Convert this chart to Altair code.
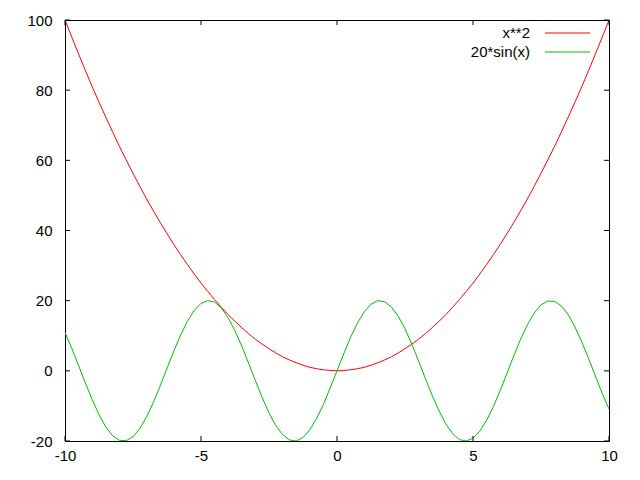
import altair as alt
import pandas as pd

# sample positions along x
x_vals = [-10, -9.75, -9.5, -9.25, -9, -8.75, -8.5, -8.25, -8, -7.75, -7.5, -7.25,
          -7, -6.75, -6.5, -6.25, -6, -5.75, -5.5, -5.25, -5, -4.75, -4.5, -4.25,
          -4, -3.75, -3.5, -3.25, -3, -2.75, -2.5, -2.25, -2, -1.75, -1.5, -1.25,
          -1, -0.75, -0.5, -0.25, 0, 0.25, 0.5, 0.75, 1, 1.25, 1.5, 1.75, 2, 2.25,
          2.5, 2.75, 3, 3.25, 3.5, 3.75, 4, 4.25, 4.5, 4.75, 5, 5.25, 5.5, 5.75,
          6, 6.25, 6.5, 6.75, 7, 7.25, 7.5, 7.75, 8, 8.25, 8.5, 8.75, 9, 9.25,
          9.5, 9.75, 10]

# series "x**2"
sq_vals = [100, 95.1, 90.3, 85.6, 81, 76.6, 72.3, 68.1, 64, 60.1, 56.3, 52.6,
           49, 45.6, 42.3, 39.1, 36, 33.1, 30.3, 27.6, 25, 22.6, 20.3, 18.1,
           16, 14.1, 12.3, 10.6, 9, 7.6, 6.3, 5.1, 4, 3.1, 2.3, 1.6,
           1, 0.6, 0.3, 0.1, 0, 0.1, 0.3, 0.6, 1, 1.6, 2.3, 3.1, 4, 5.1,
           6.3, 7.6, 9, 10.6, 12.3, 14.1, 16, 18.1, 20.3, 22.6, 25, 27.6, 30.3, 33.1,
           36, 39.1, 42.3, 45.6, 49, 52.6, 56.3, 60.1, 64, 68.1, 72.3, 76.6, 81, 85.6,
           90.3, 95.1, 100]

# series "20*sin(x)"
sin_vals = [10.9, 6.4, 1.5, -3.5, -8.2, -12.5, -16.0, -18.5, -19.8, -19.9, -18.8, -16.5,
            -13.1, -9.0, -4.3, 0.7, 5.6, 10.2, 14.1, 17.2, 19.2, 20.0, 19.6, 17.9,
            15.1, 11.4, 7.0, 2.2, -2.8, -7.6, -12.0, -15.6, -18.2, -19.7, -20.0, -19.0,
            -16.8, -13.6, -9.6, -4.9, 0, 4.9, 9.6, 13.6, 16.8, 19.0, 20.0, 19.7, 18.2, 15.6,
            12.0, 7.6, 2.8, -2.2, -7.0, -11.4, -15.1, -17.9, -19.6, -20.0, -19.2, -17.2, -14.1, -10.2,
            -5.6, -0.7, 4.3, 9.0, 13.1, 16.5, 18.8, 19.9, 19.8, 18.5, 16.0, 12.5, 8.2, 3.5,
            -1.5, -6.4, -10.9]

series_names = ["x**2", "20*sin(x)"]
series_colors = ["#ff0000", "#00c000"]
x_ticks = [-10, -5, 0, 5, 10]
y_ticks = [-20, 0, 20, 40, 60, 80, 100]

W, H = 544, 421
FONT = "Liberation Sans"

df = pd.concat([
    pd.DataFrame({"x": x_vals, "y": sq_vals, "s": series_names[0], "o": 0}),
    pd.DataFrame({"x": x_vals, "y": sin_vals, "s": series_names[1], "o": 1}),
])

xs = alt.Scale(domain=[-10, 10], nice=False, zero=False)
ys = alt.Scale(domain=[-20, 100], nice=False, zero=False)
xax = alt.Axis(values=x_ticks, grid=False, domain=False, ticks=False,
               labelPadding=7, labelFlush=False, title=None,
               labelExpr="'' + datum.value")
yax = alt.Axis(values=y_ticks, grid=False, domain=False, ticks=False,
               labelPadding=13, title=None, labelExpr="'' + datum.value")

lines = alt.Chart(df).mark_line(strokeWidth=1, clip=True).encode(
    x=alt.X("x:Q", scale=xs, axis=xax),
    y=alt.Y("y:Q", scale=ys, axis=yax),
    color=alt.Color("s:N", scale=alt.Scale(domain=series_names, range=series_colors),
                    legend=None),
    detail="s:N",
    order="o:Q",
)

xt = pd.DataFrame({"x": x_ticks})
yt = pd.DataFrame({"y": y_ticks})
tk = 5
xb = alt.Chart(xt).mark_rule(color="black", strokeWidth=1).encode(
    x=alt.X("x:Q", scale=xs, axis=xax), y=alt.value(H), y2=alt.value(H - tk))
xtp = alt.Chart(xt).mark_rule(color="black", strokeWidth=1).encode(
    x=alt.X("x:Q", scale=xs, axis=xax), y=alt.value(0), y2=alt.value(tk))
yl = alt.Chart(yt).mark_rule(color="black", strokeWidth=1).encode(
    y=alt.Y("y:Q", scale=ys, axis=yax), x=alt.value(0), x2=alt.value(tk))
yr = alt.Chart(yt).mark_rule(color="black", strokeWidth=1).encode(
    y=alt.Y("y:Q", scale=ys, axis=yax), x=alt.value(W), x2=alt.value(W - tk))

one = pd.DataFrame({"a": [0]})
leg = []
for i, (name, col) in enumerate(zip(series_names, series_colors)):
    yy = 13 + 19 * i
    leg.append(alt.Chart(one).mark_text(align="right", baseline="middle", font=FONT,
                                        fontSize=15, color="black").encode(
        x=alt.value(465), y=alt.value(yy), text=alt.value(name)))
    leg.append(alt.Chart(one).mark_rule(color=col, strokeWidth=1).encode(
        x=alt.value(480), x2=alt.value(525), y=alt.value(yy)))

chart = alt.layer(lines, xb, xtp, yl, yr, *leg).properties(
    width=W, height=H,
    autosize=alt.AutoSizeParams(type="none"),
    padding={"left": 57, "top": 12, "right": 23, "bottom": 31},
    background="white",
).configure_view(stroke="black", strokeWidth=1).configure_axis(
    labelFont=FONT, labelFontSize=15, labelColor="black"
)

chart.save("out.html", embed_options={"renderer": "svg", "actions": False})
